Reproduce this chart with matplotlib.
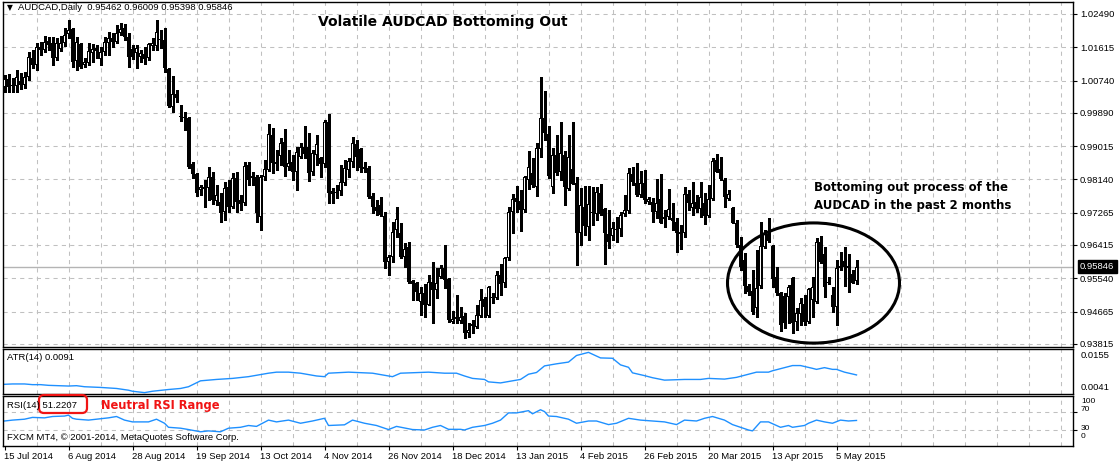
import matplotlib
matplotlib.use("Agg")
import matplotlib.pyplot as plt
from matplotlib.patches import Ellipse, FancyBboxPatch
from matplotlib.transforms import IdentityTransform, blended_transform_factory
import numpy as np

plt.rcParams['font.family'] = ['Liberation Sans', 'DejaVu Sans']

# daily AUDCAD candles, 15 Jul 2014 .. 12 May 2015
opens = [
    1.0057, 1.0078, 1.0060, 1.0060, 1.0073, 1.0062, 1.0083, 1.0133, 1.0115, 1.0162,
    1.0154, 1.0178, 1.0173, 1.0133, 1.0157, 1.0173, 1.0196, 1.0209, 1.0125, 1.0170,
    1.0115, 1.0120, 1.0146, 1.0160, 1.0131, 1.0149, 1.0173, 1.0186, 1.0175, 1.0199,
    1.0212, 1.0189, 1.0157, 1.0146, 1.0136, 1.0144, 1.0133, 1.0165, 1.0165, 1.0181,
    1.0181, 1.0104, 1.0004, 1.0039, 0.9978, 0.9978, 0.9975, 0.9855, 0.9828, 0.9786,
    0.9794, 0.9791, 0.9820, 0.9757, 0.9755, 0.9728, 0.9794, 0.9741, 0.9818, 0.9760,
    0.9752, 0.9852, 0.9818, 0.9820, 0.9715, 0.9820, 0.9839, 0.9931, 0.9855, 0.9876,
    0.9912, 0.9847, 0.9860, 0.9833, 0.9873, 0.9899, 0.9899, 0.9833, 0.9878, 0.9870,
    0.9855, 0.9965, 0.9783, 0.9778, 0.9783, 0.9804, 0.9839, 0.9860, 0.9907, 0.9894,
    0.9841, 0.9844, 0.9770, 0.9741, 0.9747, 0.9718, 0.9597, 0.9610, 0.9681, 0.9673,
    0.9610, 0.9636, 0.9547, 0.9542, 0.9492, 0.9515, 0.9484, 0.9544, 0.9523, 0.9557,
    0.9581, 0.9552, 0.9439, 0.9452, 0.9442, 0.9455, 0.9410, 0.9434, 0.9426, 0.9455,
    0.9499, 0.9455, 0.9502, 0.9502, 0.9563, 0.9542, 0.9607, 0.9728, 0.9765, 0.9757,
    0.9733, 0.9812, 0.9831, 0.9794, 0.9894, 0.9975, 0.9933, 0.9794, 0.9878, 0.9833,
    0.9878, 0.9789, 0.9841, 0.9804, 0.9673, 0.9741, 0.9688, 0.9726, 0.9723, 0.9778,
    0.9736, 0.9670, 0.9665, 0.9681, 0.9684, 0.9723, 0.9731, 0.9828, 0.9804, 0.9773,
    0.9804, 0.9755, 0.9755, 0.9728, 0.9762, 0.9715, 0.9715, 0.9712, 0.9702, 0.9670,
    0.9673, 0.9776, 0.9739, 0.9755, 0.9736, 0.9752, 0.9718, 0.9762, 0.9865, 0.9841,
    0.9812, 0.9762, 0.9739, 0.9699, 0.9641, 0.9602, 0.9534, 0.9520, 0.9475, 0.9534,
    0.9636, 0.9670, 0.9639, 0.9557, 0.9515, 0.9507, 0.9505, 0.9555, 0.9439, 0.9460,
    0.9486, 0.9439, 0.9497, 0.9492, 0.9649, 0.9618, 0.9542, 0.9510, 0.9478, 0.9581,
    0.9599, 0.9581, 0.9565, 0.95462,
]
highs = [
    1.0089, 1.0091, 1.0081, 1.0102, 1.0094, 1.0097, 1.0149, 1.0154, 1.0173, 1.0175,
    1.0191, 1.0189, 1.0189, 1.0186, 1.0191, 1.0212, 1.0233, 1.0212, 1.0189, 1.0173,
    1.0133, 1.0173, 1.0170, 1.0167, 1.0162, 1.0189, 1.0202, 1.0199, 1.0220, 1.0225,
    1.0223, 1.0199, 1.0167, 1.0167, 1.0154, 1.0162, 1.0173, 1.0186, 1.0233, 1.0207,
    1.0212, 1.0107, 1.0086, 1.0049, 1.0010, 0.9991, 0.9978, 0.9860, 0.9831, 0.9799,
    0.9812, 0.9847, 0.9833, 0.9799, 0.9778, 0.9807, 0.9812, 0.9831, 0.9833, 0.9773,
    0.9860, 0.9860, 0.9833, 0.9826, 0.9826, 0.9865, 0.9960, 0.9949, 0.9891, 0.9923,
    0.9947, 0.9891, 0.9878, 0.9899, 0.9910, 0.9954, 0.9936, 0.9891, 0.9931, 0.9873,
    0.9970, 0.9986, 0.9791, 0.9799, 0.9852, 0.9865, 0.9870, 0.9926, 0.9918, 0.9897,
    0.9860, 0.9849, 0.9778, 0.9760, 0.9768, 0.9728, 0.9615, 0.9702, 0.9741, 0.9699,
    0.9647, 0.9649, 0.9549, 0.9544, 0.9531, 0.9539, 0.9563, 0.9597, 0.9581, 0.9589,
    0.9641, 0.9555, 0.9468, 0.9510, 0.9478, 0.9463, 0.9436, 0.9444, 0.9484, 0.9526,
    0.9505, 0.9534, 0.9515, 0.9573, 0.9591, 0.9610, 0.9741, 0.9775, 0.9797, 0.9786,
    0.9823, 0.9889, 0.9870, 0.9910, 1.0083, 1.0046, 0.9954, 0.9897, 0.9931, 0.9965,
    0.9889, 0.9931, 0.9965, 0.9820, 0.9791, 0.9797, 0.9797, 0.9794, 0.9794, 0.9802,
    0.9739, 0.9733, 0.9702, 0.9715, 0.9728, 0.9773, 0.9844, 0.9847, 0.9857, 0.9836,
    0.9839, 0.9768, 0.9765, 0.9815, 0.9828, 0.9733, 0.9789, 0.9752, 0.9712, 0.9694,
    0.9794, 0.9786, 0.9807, 0.9773, 0.9807, 0.9778, 0.9799, 0.9870, 0.9881, 0.9873,
    0.9818, 0.9786, 0.9741, 0.9707, 0.9662, 0.9620, 0.9539, 0.9576, 0.9628, 0.9702,
    0.9681, 0.9712, 0.9641, 0.9584, 0.9518, 0.9515, 0.9536, 0.9557, 0.9476, 0.9502,
    0.9510, 0.9528, 0.9557, 0.9660, 0.9665, 0.9636, 0.9557, 0.9531, 0.9602, 0.9623,
    0.9636, 0.9618, 0.9576, 0.96009,
]
lows = [
    1.0044, 1.0044, 1.0044, 1.0044, 1.0052, 1.0055, 1.0075, 1.0107, 1.0102, 1.0141,
    1.0149, 1.0154, 1.0115, 1.0128, 1.0152, 1.0165, 1.0186, 1.0110, 1.0102, 1.0107,
    1.0110, 1.0115, 1.0122, 1.0133, 1.0115, 1.0141, 1.0141, 1.0162, 1.0173, 1.0194,
    1.0181, 1.0110, 1.0131, 1.0107, 1.0122, 1.0117, 1.0128, 1.0154, 1.0154, 1.0160,
    1.0097, 1.0004, 0.9991, 1.0018, 0.9968, 0.9944, 0.9844, 0.9818, 0.9770, 0.9773,
    0.9741, 0.9760, 0.9749, 0.9746, 0.9702, 0.9707, 0.9728, 0.9739, 0.9728, 0.9734,
    0.9746, 0.9799, 0.9799, 0.9702, 0.9681, 0.9812, 0.9836, 0.9831, 0.9839, 0.9852,
    0.9823, 0.9839, 0.9812, 0.9786, 0.9870, 0.9870, 0.9810, 0.9826, 0.9852, 0.9820,
    0.9847, 0.9752, 0.9752, 0.9765, 0.9773, 0.9799, 0.9820, 0.9847, 0.9839, 0.9833,
    0.9833, 0.9765, 0.9726, 0.9720, 0.9718, 0.9581, 0.9563, 0.9597, 0.9662, 0.9607,
    0.9584, 0.9542, 0.9497, 0.9497, 0.9457, 0.9452, 0.9484, 0.9436, 0.9502, 0.9555,
    0.9528, 0.9439, 0.9436, 0.9436, 0.9436, 0.9397, 0.9399, 0.9410, 0.9423, 0.9452,
    0.9452, 0.9452, 0.9489, 0.9499, 0.9510, 0.9531, 0.9602, 0.9673, 0.9728, 0.9678,
    0.9728, 0.9789, 0.9794, 0.9770, 0.9873, 0.9918, 0.9818, 0.9778, 0.9826, 0.9812,
    0.9747, 0.9786, 0.9802, 0.9589, 0.9641, 0.9668, 0.9655, 0.9694, 0.9707, 0.9720,
    0.9591, 0.9633, 0.9655, 0.9649, 0.9665, 0.9718, 0.9726, 0.9799, 0.9770, 0.9768,
    0.9752, 0.9749, 0.9702, 0.9713, 0.9699, 0.9689, 0.9710, 0.9681, 0.9623, 0.9631,
    0.9662, 0.9733, 0.9720, 0.9728, 0.9715, 0.9697, 0.9715, 0.9760, 0.9833, 0.9812,
    0.9741, 0.9760, 0.9699, 0.9636, 0.9576, 0.9515, 0.9510, 0.9460, 0.9452, 0.9528,
    0.9633, 0.9649, 0.9531, 0.9510, 0.9415, 0.9423, 0.9436, 0.9410, 0.9418, 0.9431,
    0.9431, 0.9436, 0.9452, 0.9489, 0.9594, 0.9505, 0.9539, 0.9465, 0.9431, 0.9576,
    0.9534, 0.9518, 0.9542, 0.95398,
]
closes = [
    1.0078, 1.0057, 1.0060, 1.0083, 1.0062, 1.0083, 1.0136, 1.0115, 1.0162, 1.0154,
    1.0175, 1.0167, 1.0133, 1.0173, 1.0173, 1.0194, 1.0207, 1.0122, 1.0175, 1.0110,
    1.0122, 1.0152, 1.0157, 1.0152, 1.0149, 1.0175, 1.0186, 1.0175, 1.0199, 1.0209,
    1.0189, 1.0136, 1.0136, 1.0160, 1.0146, 1.0131, 1.0170, 1.0173, 1.0202, 1.0181,
    1.0107, 1.0007, 1.0039, 1.0028, 0.9978, 0.9975, 0.9847, 0.9828, 0.9778, 0.9794,
    0.9789, 0.9820, 0.9760, 0.9773, 0.9726, 0.9791, 0.9741, 0.9818, 0.9755, 0.9749,
    0.9849, 0.9812, 0.9823, 0.9726, 0.9820, 0.9841, 0.9933, 0.9857, 0.9860, 0.9910,
    0.9847, 0.9857, 0.9833, 0.9886, 0.9899, 0.9881, 0.9831, 0.9883, 0.9907, 0.9855,
    0.9965, 0.9778, 0.9775, 0.9781, 0.9807, 0.9844, 0.9862, 0.9910, 0.9873, 0.9844,
    0.9847, 0.9768, 0.9741, 0.9731, 0.9720, 0.9597, 0.9610, 0.9676, 0.9710, 0.9610,
    0.9631, 0.9544, 0.9539, 0.9518, 0.9515, 0.9484, 0.9544, 0.9523, 0.9542, 0.9581,
    0.9549, 0.9444, 0.9447, 0.9447, 0.9452, 0.9410, 0.9418, 0.9428, 0.9457, 0.9497,
    0.9478, 0.9531, 0.9502, 0.9563, 0.9539, 0.9607, 0.9728, 0.9762, 0.9755, 0.9733,
    0.9820, 0.9847, 0.9799, 0.9897, 0.9975, 0.9936, 0.9823, 0.9878, 0.9831, 0.9883,
    0.9794, 0.9873, 0.9802, 0.9673, 0.9747, 0.9691, 0.9749, 0.9726, 0.9781, 0.9723,
    0.9673, 0.9649, 0.9686, 0.9681, 0.9720, 0.9733, 0.9831, 0.9807, 0.9773, 0.9804,
    0.9760, 0.9762, 0.9728, 0.9752, 0.9699, 0.9710, 0.9736, 0.9705, 0.9673, 0.9676,
    0.9776, 0.9752, 0.9752, 0.9736, 0.9768, 0.9718, 0.9762, 0.9862, 0.9833, 0.9815,
    0.9768, 0.9776, 0.9699, 0.9641, 0.9584, 0.9534, 0.9518, 0.9465, 0.9528, 0.9639,
    0.9670, 0.9652, 0.9552, 0.9515, 0.9431, 0.9436, 0.9531, 0.9436, 0.9463, 0.9489,
    0.9439, 0.9526, 0.9531, 0.9649, 0.9597, 0.9531, 0.9542, 0.9478, 0.9581, 0.9586,
    0.9584, 0.9586, 0.9542, 0.95846,
]

# ATR(14) and RSI(14) read at points along the lines (bar index, value)
atr_bar = [0, 2, 5, 7, 9, 11, 16, 18, 20, 24, 28, 31, 32, 35, 37, 41, 44, 46, 49, 53,
           57, 61, 66, 68, 71, 74, 78, 80, 81, 86, 92, 96, 97, 99, 106, 110, 113, 115, 117, 120,
           121, 124, 127, 129, 131, 133, 135, 138, 141, 143, 146, 149, 152, 154, 156, 157, 160, 162, 165, 170,
           174, 176, 180, 183, 186, 188, 191, 192, 195, 197, 199, 202, 203, 205, 207, 208, 210, 213]
atr_val = [0.0064, 0.0065, 0.0065, 0.0063, 0.0063, 0.0061, 0.0059, 0.0060, 0.0057, 0.0055,
           0.0052, 0.0047, 0.0044, 0.0040, 0.0044, 0.0049, 0.0052, 0.0057, 0.0074, 0.0078,
           0.0081, 0.0086, 0.0096, 0.0099, 0.0099, 0.0096, 0.0088, 0.0086, 0.0096, 0.0099,
           0.0096, 0.0088, 0.0086, 0.0096, 0.0099, 0.0096, 0.0096, 0.0088, 0.0081, 0.0078,
           0.0071, 0.0068, 0.0074, 0.0078, 0.0093, 0.0098, 0.0117, 0.0123, 0.0128, 0.0147,
           0.0156, 0.0140, 0.0139, 0.0120, 0.0113, 0.0097, 0.0089, 0.0083, 0.0076, 0.0078,
           0.0078, 0.0081, 0.0079, 0.0084, 0.0093, 0.0099, 0.0099, 0.0103, 0.0112, 0.0118,
           0.0118, 0.0110, 0.0107, 0.0112, 0.0107, 0.0107, 0.0099, 0.0091]

rsi_bar = [0, 2, 5, 7, 10, 12, 15, 16, 17, 18, 21, 23, 26, 28, 30, 32, 36, 38, 40, 41,
           44, 46, 49, 51, 54, 56, 59, 61, 63, 66, 68, 71, 74, 77, 80, 81, 85, 87, 90, 93,
           96, 98, 102, 105, 107, 109, 111, 114, 115, 117, 120, 122, 124, 126, 128, 131, 132, 134, 135, 136,
           138, 141, 143, 146, 148, 151, 153, 156, 159, 162, 165, 168, 170, 173, 175, 177, 180, 182, 186, 187,
           189, 191, 194, 196, 197, 200, 201, 203, 205, 207, 209, 211, 213]
rsi_val = [50, 52, 54, 58, 57, 60, 61, 63, 56, 54, 52, 54, 57, 60, 52, 48, 48, 54, 45, 36,
           34, 31, 26, 28, 26, 34, 36, 40, 38, 52, 48, 52, 45, 50, 56, 40, 41.5, 52, 45, 40,
           31, 38, 31, 30, 36, 40, 31.5, 31.5, 30, 36, 40, 45, 52, 68, 68, 73, 66, 75, 71, 61,
           60, 54, 45, 50, 50, 42, 45, 56, 52, 50, 48, 42, 52, 50, 56, 60, 52, 42, 30, 28,
           48, 48, 36, 40, 36, 40, 45, 52, 48, 45, 52, 50, 51.2207]

date_labels = ["15 Jul 2014", "6 Aug 2014", "28 Aug 2014", "19 Sep 2014", "13 Oct 2014",
               "4 Nov 2014", "26 Nov 2014", "18 Dec 2014", "13 Jan 2015", "4 Feb 2015",
               "26 Feb 2015", "20 Mar 2015", "13 Apr 2015", "5 May 2015"]
price_ticks = [1.02490, 1.01615, 1.00740, 0.99890, 0.99015, 0.98140,
               0.97265, 0.96415, 0.95540, 0.94665, 0.93815]
last_price = 0.95846

o = np.array(opens); h = np.array(highs); l = np.array(lows); c = np.array(closes)
n = len(c)
x = np.arange(n)

W, H = 1120, 463
fig = plt.figure(figsize=(W / 100, H / 100), dpi=100)
fig.patch.set_facecolor('white')

def panel(top, bottom):
    return fig.add_axes([3 / W, (H - bottom) / H, 1070 / W, (bottom - top) / H])

ax = panel(2, 347)
ax2 = panel(349, 393.5)
ax3 = panel(396, 446)

grid_kw = dict(color='#c0c0c0', lw=0.75, linestyle=(0, (4, 4)), zorder=0)
grid_x = np.arange(8, 268, 8)
for a in (ax, ax2, ax3):
    a.set_xlim(-0.375, 267.125)
    a.vlines(grid_x, 0, 1, transform=a.get_xaxis_transform(), **grid_kw)
    for s in a.spines.values():
        s.set_linewidth(1.0)
        s.set_color('black')
    a.tick_params(axis='x', length=0, labelbottom=False)
    a.yaxis.tick_right()

# main price panel
ax.set_ylim(0.93732, 1.02805)
ax.set_yticks(price_ticks)
ax.set_yticklabels(['%.5f' % p for p in price_ticks])
ax.tick_params(axis='y', length=3, width=0.8, pad=2, labelsize=6.8)
ax.hlines(price_ticks, -0.375, 267.125, **grid_kw)
ax.axhline(last_price, color='#b4b4b4', lw=1, zorder=1)

# candles: 3 px black body, bullish ones hollowed to a 1 px white core
px = (1.02805 - 0.93732) / 345.0
up = c >= o
body_lo = np.minimum(o, c)
body_h = np.maximum(np.abs(c - o), 1.2 * px)
ax.vlines(x, l, h, color='black', lw=0.8, zorder=2, antialiased=False)
ax.bar(x, body_h, bottom=body_lo, width=0.9, color='black', lw=0,
       zorder=3, antialiased=False)
hollow = up & ((c - o) > 2.5 * px)
ax.bar(x[hollow], (c - o)[hollow] - 2 * px, bottom=o[hollow] + px, width=0.3,
       color='white', lw=0, zorder=4, antialiased=False)

tr = blended_transform_factory(ax.transAxes, ax.transData)
ax.text(1080 / 1070 - 3 / 1070, last_price, '0.95846', transform=tr, color='white',
        fontsize=6.8, va='center', ha='left', clip_on=False,
        bbox=dict(boxstyle='square,pad=0.25', fc='black', ec='black'))

ax.add_patch(Ellipse((202.25, 0.95415), 43, 0.0316, fill=False, ec='black', lw=2.2, zorder=5))

# ATR panel
ax2.set_ylim(0.00375, 0.01657)
ax2.set_yticks([])
ax2.plot(atr_bar, atr_val, color='#1e90ff', lw=1)

# RSI panel
ax3.set_ylim(-5.6, 105.6)
ax3.set_yticks([70, 30])
ax3.set_yticklabels(['', ''])
ax3.tick_params(axis='y', length=3, width=0.8)
ax3.axhline(70, **grid_kw)
ax3.axhline(30, **grid_kw)
ax3.plot(rsi_bar, rsi_val, color='#1e90ff', lw=1)
ax3.set_xticks(np.arange(0, 16 * len(date_labels), 16))
ax3.set_xticklabels(date_labels, ha='left')
ax3.tick_params(axis='x', length=3, width=0.8, pad=1.5, labelsize=6.8, labelbottom=True)

def ftext(px_, py, s, **kw):
    kw.setdefault('fontsize', 6.8)
    kw.setdefault('va', 'center')
    fig.text(px_ / W, 1 - py / H, s, **kw)

ftext(7, 8, '\u25bc', fontsize=5.5, family='DejaVu Sans')
ftext(18, 8, 'AUDCAD,Daily  0.95462 0.96009 0.95398 0.95846')
ftext(318, 22, 'Volatile AUDCAD Bottoming Out', fontsize=10, weight='bold', family='DejaVu Sans')
ftext(814, 187, 'Bottoming out process of the', fontsize=8.5, weight='bold', family='DejaVu Sans')
ftext(814, 205, 'AUDCAD in the past 2 months', fontsize=8.5, weight='bold', family='DejaVu Sans')
ftext(7, 357, 'ATR(14) 0.0091')
ftext(7, 405, 'RSI(14) 51.2207')
ftext(101, 405, 'Neutral RSI Range', fontsize=8.3, weight='bold', family='DejaVu Sans', color='#f01414')
ftext(7, 438, 'FXCM MT4, \u00a9 2001-2014, MetaQuotes Software Corp.')
ftext(1081, 356, '0.0155')
ftext(1081, 387, '0.0041')
ftext(1081, 401.5, '100', fontsize=6)
ftext(1081, 409.5, '70', fontsize=6)
ftext(1081, 428.5, '30', fontsize=6)
ftext(1081, 436.5, '0', fontsize=6)

fig.add_artist(FancyBboxPatch((39, H - 413), 48, 18, boxstyle='round,pad=0,rounding_size=5',
                              transform=IdentityTransform(), fill=False, ec='#f01414', lw=1.6))

fig.savefig('out.png', dpi=100)
